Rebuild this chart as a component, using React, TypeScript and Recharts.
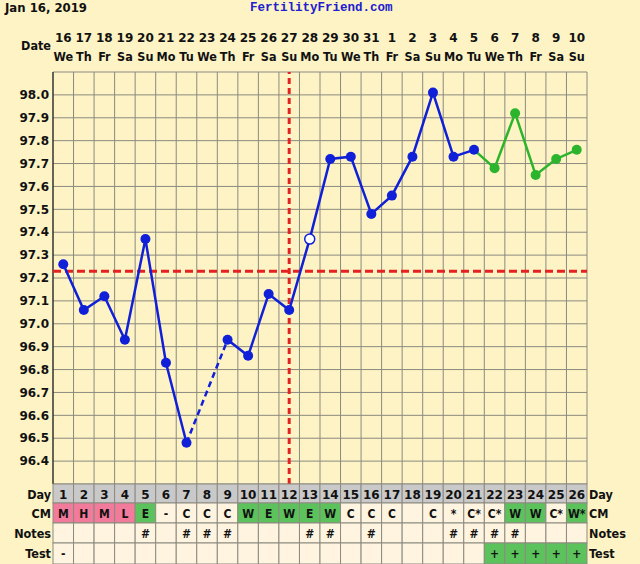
import React from "react";
import { ComposedChart, Line, XAxis, YAxis, ReferenceLine } from "recharts";

// cycle data
const cycleDays = [1, 2, 3, 4, 5, 6, 7, 8, 9, 10, 11, 12, 13, 14, 15, 16, 17, 18, 19, 20, 21, 22, 23, 24, 25, 26];
const dateLabels = ["16", "17", "18", "19", "20", "21", "22", "23", "24", "25", "26", "27", "28", "29", "30", "31", "1", "2", "3", "4", "5", "6", "7", "8", "9", "10"];
const weekdays = ["We", "Th", "Fr", "Sa", "Su", "Mo", "Tu", "We", "Th", "Fr", "Sa", "Su", "Mo", "Tu", "We", "Th", "Fr", "Sa", "Su", "Mo", "Tu", "We", "Th", "Fr", "Sa", "Su"];
const temps: (number | null)[] = [97.26, 97.06, 97.12, 96.93, 97.37, 96.83, 96.48, null, 96.93, 96.86, 97.13, 97.06, 97.37, 97.72, 97.73, 97.48, 97.56, 97.73, 98.01, 97.73, 97.76, 97.68, 97.92, 97.65, 97.72, 97.76];
const cmCodes = ["M", "H", "M", "L", "E", "-", "C", "C", "C", "W", "E", "W", "E", "W", "C", "C", "C", "", "C", "*", "C*", "C*", "W", "W", "C*", "W*"];
const notes = ["", "", "", "", "#", "", "#", "#", "#", "", "", "", "#", "#", "", "#", "", "", "", "#", "#", "#", "#", "", "", ""];
const tests = ["-", "", "", "", "", "", "", "", "", "", "", "", "", "", "", "", "", "", "", "", "", "+", "+", "+", "+", "+"];
const tempTicks = [96.4, 96.5, 96.6, 96.7, 96.8, 96.9, 97.0, 97.1, 97.2, 97.3, 97.4, 97.5, 97.6, 97.7, 97.8, 97.9, 98.0];
const coverline = 97.23;
const ovulationDay = 12;
const lastBlueDay = 21;
const gapDays = [7, 9];
const openDotDays = [13];

const W = 640;
const H = 564;
const AXIS_W = 53;
const COL = (W - AXIS_W * 2) / cycleDays.length;

const BG = "#fdf3c4";
const GRID = "#8c8a80";
const BLUE = "#1020d8";
const GREEN = "#2cb52c";
const RED = "#e42222";
const PINK = "#f27a9a";
const CELL_GREEN = "#5cc25c";
const CREAM = "#fff4e0";
const GRAY = "#c9c9c9";

const FONT = "DejaVu Sans";
const FONT_C = "DejaVu Sans Condensed";

const data = cycleDays.map((day, i) => ({
  day,
  blue: day <= lastBlueDay ? temps[i] : null,
  green: day >= lastBlueDay ? temps[i] : null,
  gap: gapDays.includes(day) ? temps[i] : null,
}));

const xBounds = Array.from({ length: cycleDays.length + 1 }, (_, i) => i + 0.5);
const yLines = Array.from({ length: 19 }, (_, i) => +(96.3 + i * 0.1).toFixed(1));

const cmColor = (c: string) => {
  if (["M", "H", "L"].includes(c)) return PINK;
  if (c.startsWith("E") || c.startsWith("W")) return CELL_GREEN;
  return CREAM;
};

const txt = { fontFamily: FONT_C, fontWeight: "bold" as const, fontSize: 12.5, fill: "#111" };

const DateTick = (props: any) => {
  const { x, y, index } = props;
  return (
    <g>
      {index === 0 && (
        <text x={x - COL / 2 - 2} y={y - 22} textAnchor="end" {...txt}>
          Date
        </text>
      )}
      <text x={x} y={y - 30} textAnchor="middle" {...txt} fontFamily={FONT} fontSize={12}>
        {dateLabels[index]}
      </text>
      <text x={x} y={y - 11} textAnchor="middle" {...txt}>
        {weekdays[index]}
      </text>
    </g>
  );
};

const TableTick = (props: any) => {
  const { x, y, index } = props;
  const left = x - COL / 2;
  const rows = [
    { top: 0, h: 19, fill: GRAY, label: String(cycleDays[index]), name: "Day" },
    { top: 19, h: 20, fill: cmColor(cmCodes[index]), label: cmCodes[index], name: "CM" },
    { top: 39, h: 20, fill: CREAM, label: notes[index], name: "Notes" },
    { top: 59, h: 21, fill: tests[index] === "+" ? CELL_GREEN : CREAM, label: tests[index], name: "Test" },
  ];
  return (
    <g>
      {rows.map((r) => (
        <g key={r.name}>
          <rect x={left} y={y + r.top} width={COL} height={r.h} fill={r.fill} stroke={GRID} strokeWidth={1} />
          <text x={x} y={y + r.top + 14.5} textAnchor="middle" {...txt} fontFamily={r.name === "Day" ? FONT : FONT_C} fontSize={12}>
            {r.label}
          </text>
          {index === 0 && (
            <text x={left - 2} y={y + r.top + 14.5} textAnchor="end" {...txt}>
              {r.name}
            </text>
          )}
          {index === cycleDays.length - 1 && (
            <text x={left + COL + 2} y={y + r.top + 14.5} textAnchor="start" {...txt}>
              {r.name}
            </text>
          )}
        </g>
      ))}
    </g>
  );
};

const BlueDot = (props: any) => {
  const { cx, cy, payload } = props;
  if (cx == null || cy == null || payload.blue == null) return <g key={`b-${payload.day}`} />;
  if (openDotDays.includes(payload.day)) {
    return <circle key={`b-${payload.day}`} cx={cx} cy={cy} r={5} fill="#fff" stroke={BLUE} strokeWidth={1.5} />;
  }
  return <circle key={`b-${payload.day}`} cx={cx} cy={cy} r={5} fill={BLUE} />;
};

const GreenDot = (props: any) => {
  const { cx, cy, payload } = props;
  if (cx == null || cy == null || payload.green == null || payload.day === lastBlueDay) return <g key={`g-${payload.day}`} />;
  return <circle key={`g-${payload.day}`} cx={cx} cy={cy} r={5} fill={GREEN} />;
};

export default function App() {
  return (
    <div style={{ position: "absolute", left: 0, top: 0, width: W, height: H, background: BG, overflow: "hidden" }}>
      <div style={{ position: "absolute", left: 5, top: 0, font: `bold 13px "${FONT_C}"`, lineHeight: "16px", color: "#111" }}>
        Jan 16, 2019
      </div>
      <div style={{ position: "absolute", left: 250, top: 0, font: 'bold 12.5px "Liberation Mono"', lineHeight: "16px", color: "#2020d0" }}>
        FertilityFriend.com
      </div>
      <ComposedChart width={W} height={H} data={data} margin={{ top: 0, right: 0, bottom: 0, left: 0 }}>
        <XAxis
          xAxisId="b"
          dataKey="day"
          type="number"
          domain={[0.5, cycleDays.length + 0.5]}
          ticks={cycleDays}
          interval={0}
          height={80}
          tickSize={0}
          tickMargin={0}
          tickLine={false}
          axisLine={false}
          tick={<TableTick />}
        />
        <XAxis
          xAxisId="t"
          orientation="top"
          dataKey="day"
          type="number"
          domain={[0.5, cycleDays.length + 0.5]}
          ticks={cycleDays}
          interval={0}
          height={72}
          tickSize={0}
          tickMargin={0}
          tickLine={false}
          axisLine={false}
          tick={<DateTick />}
        />
        <YAxis
          yAxisId="l"
          domain={[96.3, 98.1]}
          ticks={tempTicks}
          interval={0}
          width={AXIS_W}
          tickSize={0}
          tickMargin={4}
          tickLine={false}
          axisLine={false}
          tickFormatter={(v: number) => v.toFixed(1)}
          tick={{ fontFamily: FONT, fontWeight: "bold", fontSize: 12, fill: "#111" }}
        />
        <YAxis
          yAxisId="r"
          orientation="right"
          domain={[96.3, 98.1]}
          ticks={tempTicks}
          interval={0}
          width={AXIS_W}
          tickSize={0}
          tickMargin={5}
          tickLine={false}
          axisLine={false}
          tickFormatter={(v: number) => v.toFixed(1)}
          tick={{ fontFamily: FONT, fontWeight: "bold", fontSize: 12, fill: "#111" }}
        />
        {yLines.map((v) => (
          <ReferenceLine key={`h-${v}`} xAxisId="b" yAxisId="l" y={v} stroke={GRID} strokeWidth={1} />
        ))}
        {xBounds.map((v) => (
          <ReferenceLine
            key={`v-${v}`}
            xAxisId="b"
            yAxisId="l"
            x={v}
            stroke={v === 0.5 ? "#333" : GRID}
            strokeWidth={v === 0.5 ? 1.5 : 1}
          />
        ))}
        <ReferenceLine xAxisId="b" yAxisId="l" y={coverline} stroke={RED} strokeWidth={3} strokeDasharray="8 4" />
        <ReferenceLine xAxisId="b" yAxisId="l" x={ovulationDay} stroke={RED} strokeWidth={3} strokeDasharray="6 4" />
        <Line
          xAxisId="b"
          yAxisId="l"
          dataKey="gap"
          type="linear"
          stroke={BLUE}
          strokeWidth={2.5}
          strokeDasharray="6 4"
          connectNulls
          dot={false}
          activeDot={false}
          isAnimationActive={false}
        />
        <Line
          xAxisId="b"
          yAxisId="l"
          dataKey="green"
          type="linear"
          stroke={GREEN}
          strokeWidth={2.5}
          dot={<GreenDot />}
          activeDot={false}
          isAnimationActive={false}
        />
        <Line
          xAxisId="b"
          yAxisId="l"
          dataKey="blue"
          type="linear"
          stroke={BLUE}
          strokeWidth={2.5}
          dot={<BlueDot />}
          activeDot={false}
          isAnimationActive={false}
        />
      </ComposedChart>
    </div>
  );
}
